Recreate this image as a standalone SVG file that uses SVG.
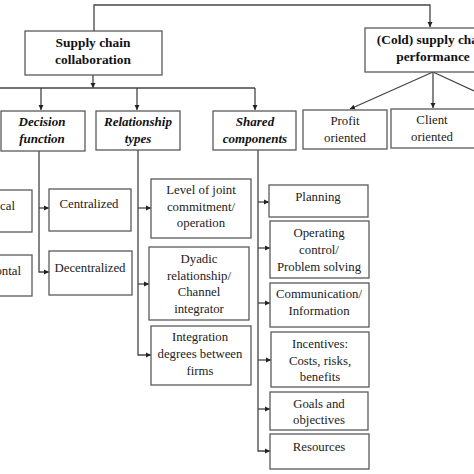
<svg xmlns="http://www.w3.org/2000/svg" width="474" height="474" viewBox="0 0 474 474">
<style>
  .box { fill: #ffffff; stroke: #5a5a5a; stroke-width: 1.3; }
  text { font-family: 'Liberation Serif', 'DejaVu Serif', serif; }
  .t { font-size: 12.8px; fill: #222; text-anchor: middle; }
  .h { font-size: 13.4px; font-weight: bold; fill: #111; text-anchor: middle; }
  .hi { font-size: 13px; font-weight: bold; font-style: italic; fill: #111; text-anchor: middle; }
  .e { text-anchor: end; }
  .c { fill: none; stroke: #444; stroke-width: 1.3; }
</style>
<defs>
  <marker id="ah" markerUnits="userSpaceOnUse" markerWidth="6" markerHeight="6" refX="5" refY="3" orient="auto">
    <path d="M0,0.5 L5,3 L0,5.5 z" fill="#222"/>
  </marker>
</defs>
<rect width="474" height="474" fill="#ffffff"/>

<g id="connectors">
  <path class="c" d="M94,31 V5 H430 V27" marker-end="url(#ah)"/>
  <path class="c" d="M93,75 V88" marker-end="url(#ah)"/>
  <path class="c" d="M0,88 H255"/>
  <path class="c" d="M41,88 V110" marker-end="url(#ah)"/>
  <path class="c" d="M137,88 V110" marker-end="url(#ah)"/>
  <path class="c" d="M255,88 V110" marker-end="url(#ah)"/>
  <path class="c" d="M433,72 L350,109" marker-end="url(#ah)"/>
  <path class="c" d="M433,72 V108" marker-end="url(#ah)"/>
  <path class="c" d="M433,72 L474,91"/>
  <path class="c" d="M39,151 V272 H49" marker-end="url(#ah)"/>
  <path class="c" d="M39,208 H49" marker-end="url(#ah)"/>
  <path class="c" d="M138,150 V355 H151" marker-end="url(#ah)"/>
  <path class="c" d="M138,208 H151" marker-end="url(#ah)"/>
  <path class="c" d="M138,284 H149" marker-end="url(#ah)"/>
  <path class="c" d="M258,150 V451 H270" marker-end="url(#ah)"/>
  <path class="c" d="M258,202 H269" marker-end="url(#ah)"/>
  <path class="c" d="M258,248 H270" marker-end="url(#ah)"/>
  <path class="c" d="M258,303 H270" marker-end="url(#ah)"/>
  <path class="c" d="M258,360 H271" marker-end="url(#ah)"/>
  <path class="c" d="M258,409 H270" marker-end="url(#ah)"/>
</g>

<g id="scc">
  <rect class="box" x="25" y="31" width="137" height="44"/>
  <text class="h" x="93" y="47">Supply chain</text>
  <text class="h" x="93" y="64">collaboration</text>
</g>
<g id="cold">
  <rect class="box" x="365" y="28" width="136" height="44"/>
  <text class="h" x="433" y="44">(Cold) supply chain</text>
  <text class="h" x="433" y="61">performance</text>
</g>

<g id="decision">
  <rect class="box" x="1" y="111" width="84" height="40"/>
  <text class="hi" x="42" y="126">Decision</text>
  <text class="hi" x="42" y="143">function</text>
</g>
<g id="relationship">
  <rect class="box" x="96" y="111" width="84" height="39"/>
  <text class="hi" x="138" y="126">Relationship</text>
  <text class="hi" x="138" y="143">types</text>
</g>
<g id="shared">
  <rect class="box" x="213" y="111" width="83" height="39"/>
  <text class="hi" x="255" y="126">Shared</text>
  <text class="hi" x="255" y="143">components</text>
</g>
<g id="profit">
  <rect class="box" x="303" y="110" width="84" height="39"/>
  <text class="t" x="345" y="125">Profit</text>
  <text class="t" x="345" y="142">oriented</text>
</g>
<g id="client">
  <rect class="box" x="391" y="109" width="90" height="39"/>
  <text class="t" x="432" y="124">Client</text>
  <text class="t" x="432" y="141">oriented</text>
</g>

<g id="vertical">
  <rect class="box" x="-60" y="190" width="92" height="42"/>
  <text class="t e" x="15" y="210">Vertical</text>
</g>
<g id="horizontal">
  <rect class="box" x="-60" y="255" width="92" height="41"/>
  <text class="t e" x="21" y="275">Horizontal</text>
</g>
<g id="centralized">
  <rect class="box" x="49" y="189" width="82" height="42"/>
  <text class="t" x="89" y="208">Centralized</text>
</g>
<g id="decentralized">
  <rect class="box" x="49" y="251" width="83" height="44"/>
  <text class="t" x="90" y="272">Decentralized</text>
</g>

<g id="level">
  <rect class="box" x="151" y="179" width="100" height="59"/>
  <text class="t" x="201" y="194">Level of joint</text>
  <text class="t" x="201" y="211">commitment/</text>
  <text class="t" x="201" y="227">operation</text>
</g>
<g id="dyadic">
  <rect class="box" x="149" y="247" width="100" height="73"/>
  <text class="t" x="199" y="263">Dyadic</text>
  <text class="t" x="199" y="280">relationship/</text>
  <text class="t" x="199" y="296">Channel</text>
  <text class="t" x="199" y="313">integrator</text>
</g>
<g id="integration">
  <rect class="box" x="151" y="326" width="100" height="59"/>
  <text class="t" x="200" y="341">Integration</text>
  <text class="t" x="200" y="358">degrees between</text>
  <text class="t" x="200" y="375">firms</text>
</g>

<g id="planning">
  <rect class="box" x="269" y="185" width="99" height="32"/>
  <text class="t" x="318" y="201">Planning</text>
</g>
<g id="operating">
  <rect class="box" x="270" y="221" width="99" height="57"/>
  <text class="t" x="319" y="237">Operating</text>
  <text class="t" x="319" y="254">control/</text>
  <text class="t" x="319" y="271">Problem solving</text>
</g>
<g id="communication">
  <rect class="box" x="270" y="283" width="99" height="44"/>
  <text class="t" x="319" y="298">Communication/</text>
  <text class="t" x="319" y="315">Information</text>
</g>
<g id="incentives">
  <rect class="box" x="271" y="332" width="98" height="55"/>
  <text class="t" x="320" y="348">Incentives:</text>
  <text class="t" x="320" y="365">Costs, risks,</text>
  <text class="t" x="320" y="381">benefits</text>
</g>
<g id="goals">
  <rect class="box" x="270" y="392" width="98" height="38"/>
  <text class="t" x="319" y="408">Goals and</text>
  <text class="t" x="319" y="424">objectives</text>
</g>
<g id="resources">
  <rect class="box" x="270" y="434" width="99" height="35"/>
  <text class="t" x="319" y="451">Resources</text>
</g>
</svg>
